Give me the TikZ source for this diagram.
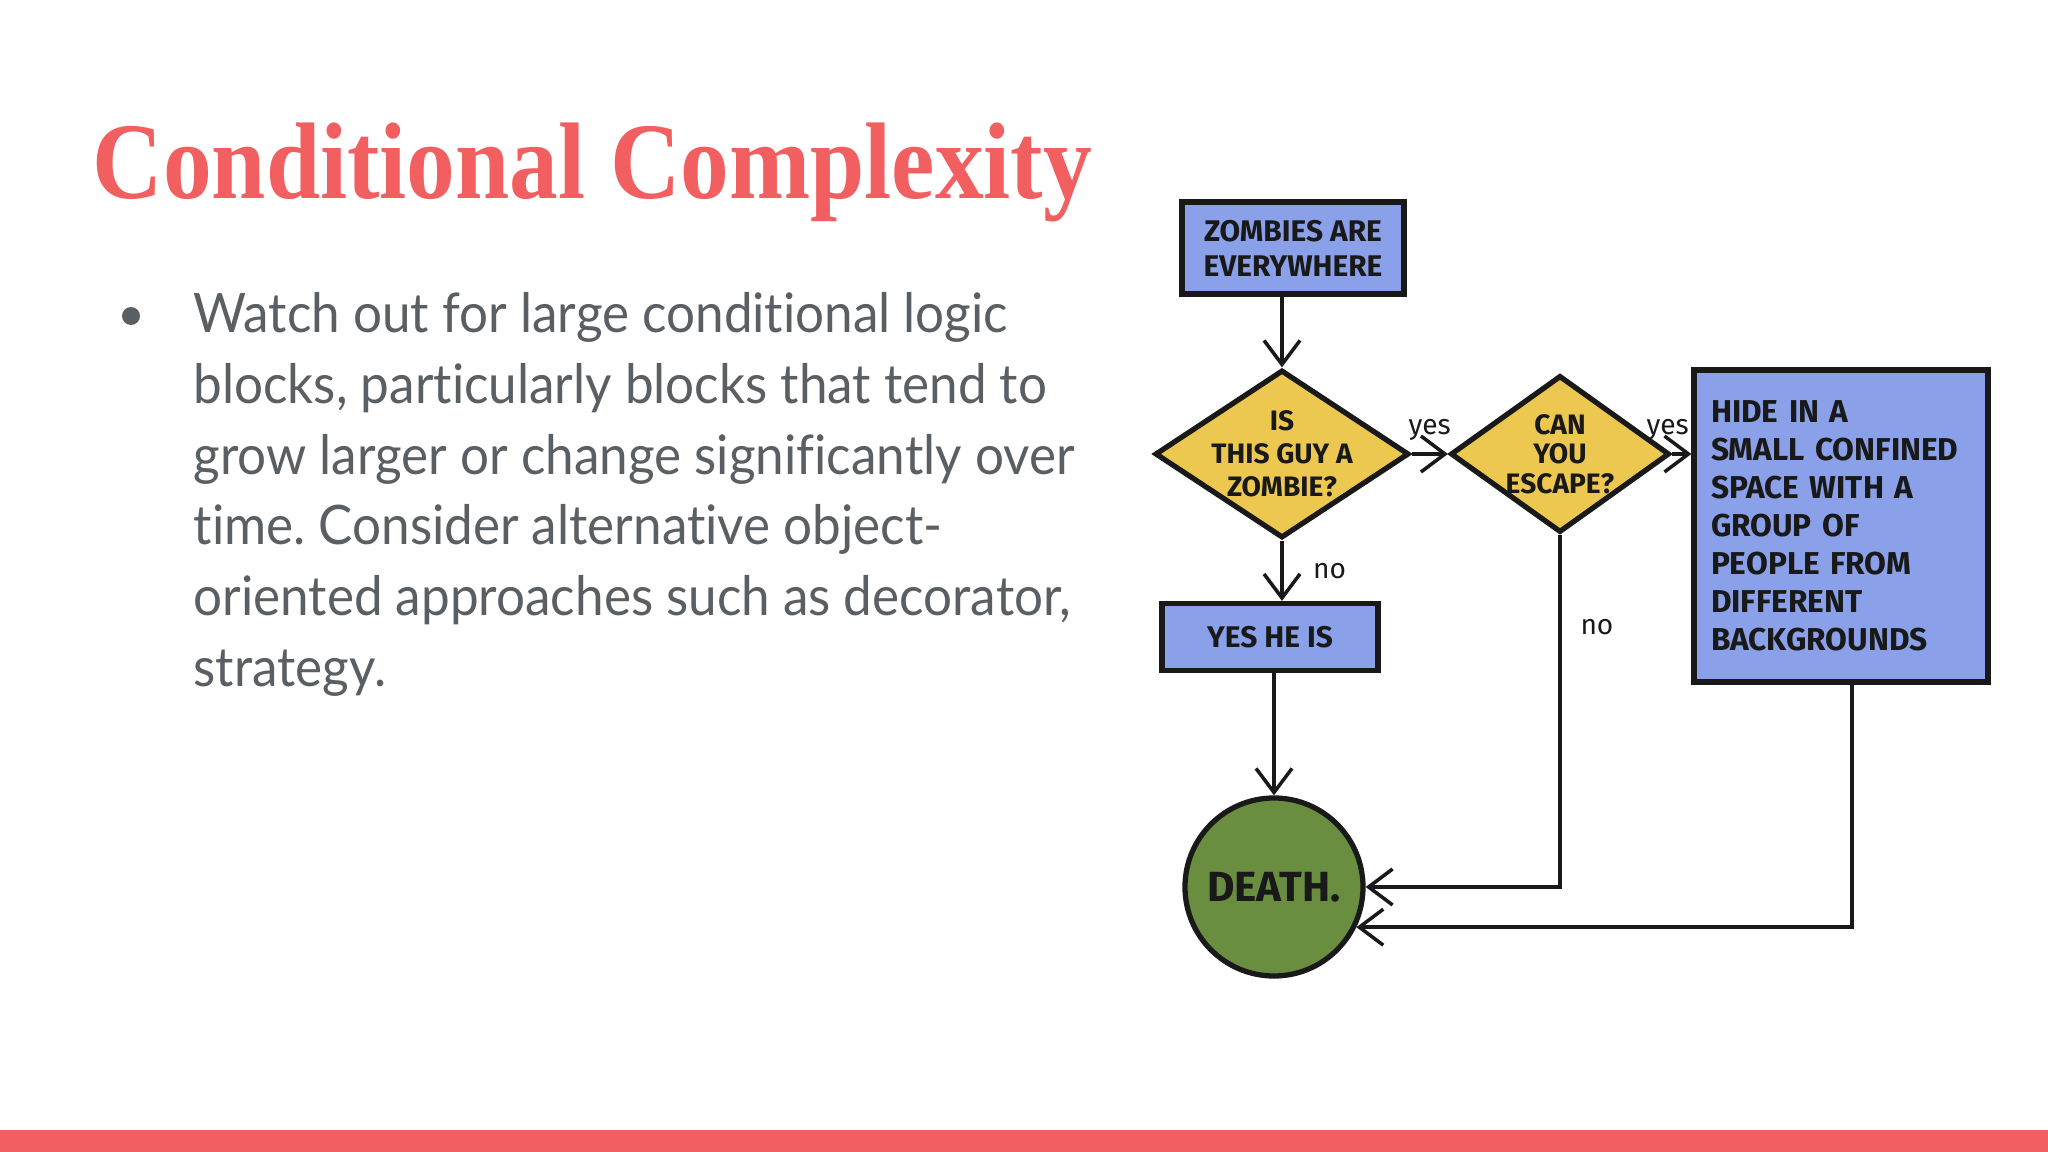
\documentclass[tikz,border=0pt]{standalone}
\usepackage{fontspec}
\setmainfont[Ligatures=NoCommon, FakeStretch=0.94]{Lato}
\newfontfamily\titlefont[FakeStretch=0.895]{Liberation Serif}
\newfontfamily\comicfont{Fira Sans}
\usetikzlibrary{shapes.geometric,arrows.meta,positioning,calc}
\definecolor{slidered}{RGB}{242,95,96}
\definecolor{bodygray}{RGB}{90,95,99}
\definecolor{zblue}{RGB}{138,160,232}
\definecolor{zyellow}{RGB}{236,200,80}
\definecolor{zgreen}{RGB}{106,142,64}
\definecolor{ink}{RGB}{25,25,25}
\frenchspacing

\begin{document}
\begin{tikzpicture}[
    box/.style = {rectangle, draw=ink, line width=1.5pt, fill=zblue, text=ink, align=center, inner sep=0pt, font=\comicfont\bfseries\fontsize{8.5}{10}\selectfont},
    decision/.style = {diamond, draw=ink, line width=1.5pt, fill=zyellow, inner sep=0pt},
    qtext/.style = {text=ink, align=center, font=\comicfont\bfseries\fontsize{8}{9.4}\selectfont},
    tag/.style = {text=ink, font=\comicfont\fontsize{8}{9}\selectfont},
    flow/.style = {draw=ink, line width=1pt, ->},
    >={Straight Barb[length=2.4mm, width=3.6mm, line width=1pt]}
]
\useasboundingbox (0,0) rectangle (20.48,-11.52);
\fill[white] (0,0) rectangle (20.48,-11.52);
\fill[slidered] (0,-11.30) rectangle (20.48,-11.52);

\node[anchor=base west, text=slidered, font=\titlefont\bfseries\fontsize{31}{36}\selectfont, inner sep=0pt] (title) at (0.92,-1.99) {Conditional Complexity};

\fill[bodygray] (1.31,-3.16) circle (0.09);
\node[anchor=north west, text=bodygray, align=left, inner sep=0pt, font=\fontsize{15.5}{20.1}\selectfont] (body) at (1.93,-2.92) {Watch out for large conditional logic\\blocks, particularly blocks that tend to\\grow larger or change significantly over\\time. Consider alternative object-\\oriented approaches such as decorator,\\strategy.};

\node[box, minimum width=2.22cm, minimum height=0.92cm] (zombies) at (12.93,-2.48) {ZOMBIES ARE\\EVERYWHERE};
\node[decision, minimum width=2.54cm, minimum height=1.68cm, label={[qtext]center:{IS\\THIS GUY A\\ZOMBIE?}}] (zombie) at (12.82,-4.54) {};
\node[decision, minimum width=2.19cm, minimum height=1.57cm, label={[qtext, font=\comicfont\bfseries\fontsize{8}{8.4}\selectfont]center:{CAN\\YOU\\ESCAPE?}}] (escape) at (15.60,-4.54) {};
\node[box, minimum width=2.94cm, minimum height=3.12cm, text width=2.6cm, align=left, font=\comicfont\bfseries\fontsize{9}{10.8}\selectfont] (hide) at (18.41,-5.26) {HIDE IN A\\SMALL CONFINED\\SPACE WITH A\\GROUP OF\\PEOPLE FROM\\DIFFERENT\\BACKGROUNDS};
\node[box, minimum width=2.16cm, minimum height=0.67cm] (yesis) at (12.70,-6.37) {YES HE IS};
\node[circle, draw=ink, line width=1.5pt, fill=zgreen, text=ink, minimum size=1.78cm, font=\comicfont\bfseries\fontsize{12}{14}\selectfont] (death) at (12.74,-8.87) {DEATH.};

\draw[flow] (zombies.south -| zombie.north) -- (zombie.north);
\draw[flow] (zombie.east) -- node[tag, above] {yes} (escape.west);
\draw[flow] (escape.east) -- node[tag, above, xshift=-4pt] {yes} (escape.east -| hide.west);
\draw[flow] (zombie.south) -- node[tag, right=5pt] {no} (zombie.south |- yesis.north);
\draw[flow] (yesis.south -| death.north) -- (death.north);
\draw[flow] (escape.south) |- node[tag, pos=0.13, right=2pt] {no} (death.east);
\draw[flow] ([xshift=0.11cm]hide.south) |- (death.-26);
\end{tikzpicture}
\end{document}
